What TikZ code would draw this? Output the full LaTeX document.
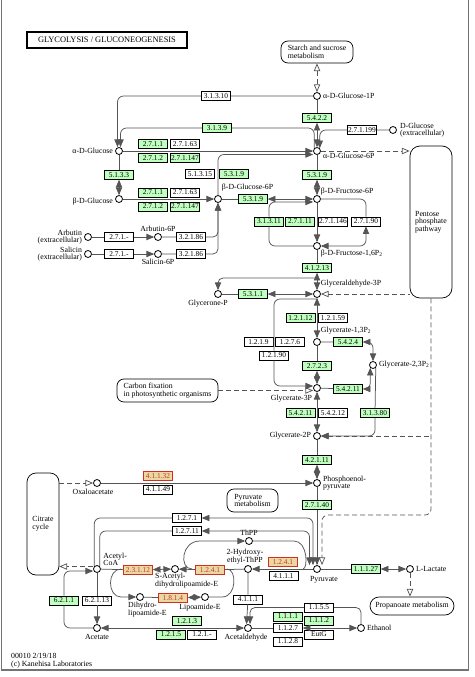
\documentclass[tikz,border=0pt]{standalone}
\usepackage{fontspec}
\setmainfont{Liberation Serif}
\usetikzlibrary{arrows, positioning}

\definecolor{kgreen}{HTML}{BFFFBF}
\definecolor{kline}{HTML}{555555}
\definecolor{kred}{HTML}{D0301E}
\definecolor{khigh}{HTML}{EAD8A4}

\begin{document}
\begin{tikzpicture}[x=1pt, y=-1pt, font=\fontsize{7.8}{7.6}\selectfont]
	\tikzset{>=triangle 45,
		cpd/.style={circle, draw, line width=0.8pt, fill=white, inner sep=0pt, minimum size=7pt},
		ec/.style={draw, line width=0.6pt, fill=white, inner sep=0pt, minimum width=29pt, minimum height=9pt, font=\fontsize{7.4}{7.4}\selectfont},
		ecg/.style={ec, fill=kgreen},
		ech/.style={ec, fill=khigh, draw=kred, text=kred},
		lk/.style={draw=kline, line width=0.75pt},
		dlk/.style={lk, dash pattern=on 5pt off 3pt, >=open triangle 45},
		mapbox/.style={draw, line width=0.7pt, rounded corners=7pt, align=left, inner sep=0pt},
		lbl/.style={inner sep=1pt, align=left}
	}
	\useasboundingbox (0,0) rectangle (474,677);
	\draw[black!55, line width=1.5pt] (1.5,0) -- (1.5,670) -- (468.5,670) -- (468.5,0);

	\node[draw, line width=1.1pt, minimum width=160pt, minimum height=16pt, font=\fontsize{8.4}{9}\selectfont] (title) at (107,40) {GLYCOLYSIS / GLUCONEOGENESIS};

	% maps
	\node[mapbox, minimum width=72pt, minimum height=22pt] (starch) at (317,52) {Starch and sucrose\\metabolism};
	\node[mapbox, rounded corners=10pt, minimum width=42pt, minimum height=152pt] (ppp) at (431,222) {Pentose\\phosphate\\pathway};
	\node[mapbox, minimum width=101pt, minimum height=23pt] (carbon) at (167.5,390.5) {Carbon fixation\\in photosynthetic organisms};
	\node[mapbox, rounded corners=9pt, minimum width=32pt, minimum height=102pt] (citrate) at (43,524) {Citrate\\cycle};
	\node[mapbox, minimum width=51pt, minimum height=23pt] (pyrmet) at (252.5,500.5) {Pyruvate\\metabolism};
	\node[mapbox, rounded corners=9pt, minimum width=84pt, minimum height=18pt] (prop) at (412,606) {Propanoate metabolism};

	% compounds
	\node[cpd] (g1p) at (317,96) {};
	\node[cpd] (aglc) at (119,151) {};
	\node[cpd] (ag6p) at (317,151) {};
	\node[cpd] (dglc) at (393,130) {};
	\node[cpd] (bglc) at (119,199) {};
	\node[cpd] (bg6p) at (218,199) {};
	\node[cpd] (f6p) at (317,199) {};
	\node[cpd] (fbp) at (317,246) {};
	\node[cpd] (arb) at (88,237) {};
	\node[cpd] (arb6p) at (158,237) {};
	\node[cpd] (sal) at (88,254) {};
	\node[cpd] (sal6p) at (158,254) {};
	\node[cpd] (gap) at (317,294) {};
	\node[cpd] (dhap) at (218,294) {};
	\node[cpd] (bpg13) at (317,342) {};
	\node[cpd] (bpg23) at (373,365) {};
	\node[cpd] (pg3) at (317,388) {};
	\node[cpd] (pg2) at (317,436) {};
	\node[cpd] (pep) at (317,483) {};
	\node[cpd] (oaa) at (97,483) {};
	\node[cpd] (pyr) at (317,569) {};
	\node[cpd] (lac) at (410,569) {};
	\node[cpd] (accoa) at (97,569) {};
	\node[cpd] (sacet) at (175,569) {};
	\node[cpd] (hethpp) at (248,569) {};
	\node[cpd] (thpp) at (249,541) {};
	\node[cpd] (dhlip) at (140,597) {};
	\node[cpd] (lip) at (205,597) {};
	\node[cpd] (acetate) at (97,628) {};
	\node[cpd] (acald) at (248,628) {};
	\node[cpd] (etoh) at (361,628) {};

	% compound labels
	\node[lbl, right=1pt of g1p] (tg1p) {α-D-Glucose-1P};
	\node[lbl, left=1pt of aglc] (taglc) {α-D-Glucose};
	\node[lbl, right=1pt of ag6p, yshift=-5pt] (tag6p) {α-D-Glucose-6P};
	\node[lbl, right=2pt of dglc] (tdglc) {D-Glucose\\(extracellular)};
	\node[lbl, left=1pt of bglc, yshift=-3pt] (tbglc) {β-D-Glucose};
	\node[lbl, above right=4pt and 0pt of bg6p] (tbg6p) {β-D-Glucose-6P};
	\node[lbl, above right=0pt and 0pt of f6p] (tf6p) {β-D-Fructose-6P};
	\node[lbl, below right=0pt and 0pt of fbp] (tfbp) {β-D-Fructose-1,6P\textsubscript{2}};
	\node[lbl, left=1pt of arb, align=right] (tarb) {Arbutin\\(extracellular)};
	\node[lbl, above=0pt of arb6p] (tarb6p) {Arbutin-6P};
	\node[lbl, left=1pt of sal, align=right] (tsal) {Salicin\\(extracellular)};
	\node[lbl, below=0pt of sal6p] (tsal6p) {Salicin-6P};
	\node[lbl, above right=3pt and 0pt of gap] (tgap) {Glyceraldehyde-3P};
	\node[lbl, below=1pt of dhap, xshift=-10pt] (tdhap) {Glycerone-P};
	\node[lbl, above right=4pt and 0pt of bpg13] (tbpg13) {Glycerate-1,3P\textsubscript{2}};
	\node[lbl, right=1pt of bpg23] (tbpg23) {Glycerate-2,3P\textsubscript{2}};
	\node[lbl, below left=3pt and 1pt of pg3] (tpg3) {Glycerate-3P};
	\node[lbl, left=1pt of pg2] (tpg2) {Glycerate-2P};
	\node[lbl, right=1pt of pep] (tpep) {Phosphoenol-\\pyruvate};
	\node[lbl, below=1pt of oaa, xshift=-4pt] (toaa) {Oxaloacetate};
	\node[lbl, below=2pt of pyr, xshift=7pt] (tpyr) {Pyruvate};
	\node[lbl, right=1pt of lac] (tlac) {L-Lactate};
	\node[lbl, above right=-1pt and 2.5pt of accoa] (taccoa) {Acetyl-\\CoA};
	\node[lbl, anchor=north west] (tsacet) at (154,572) {S-Acetyl-\\dihydrolipoamide-E};
	\node[lbl, above=0pt of hethpp, xshift=-3pt, align=center] (thethpp) {2-Hydroxy-\\ethyl-ThPP};
	\node[lbl, above=0pt of thpp] (tthpp) {ThPP};
	\node[lbl, anchor=north west] (tdhlip) at (127,601) {Dihydro-\\lipoamide-E};
	\node[lbl, below=2pt of lip, xshift=-5pt] (tlip) {Lipoamide-E};
	\node[lbl, below=1pt of acetate] (tacetate) {Acetate};
	\node[lbl, below=1pt of acald, xshift=-2pt] (tacald) {Acetaldehyde};
	\node[lbl, right=1pt of etoh] (tetoh) {Ethanol};

	% enzymes
	\node[ec] (e31310) at (216,96) {3.1.3.10};
	\node[ecg] (e3139) at (217,128) {3.1.3.9};
	\node[ecg] (e5422) at (317,118) {5.4.2.2};
	\node[ec] (e271199) at (362,130) {2.7.1.199};
	\node[ecg] (e2711a) at (153,144) {2.7.1.1};
	\node[ec] (e27163a) at (185,144) {2.7.1.63};
	\node[ecg] (e2712a) at (153,158) {2.7.1.2};
	\node[ecg] (e271147a) at (185,158) {2.7.1.147};
	\node[ecg] (e5133) at (119,175) {5.1.3.3};
	\node[ec] (e51315) at (200,174) {5.1.3.15};
	\node[ecg] (e5319a) at (234,174) {5.3.1.9};
	\node[ecg] (e5319b) at (317,175) {5.3.1.9};
	\node[ecg] (e2711b) at (153,192.5) {2.7.1.1};
	\node[ec] (e27163b) at (185,192.5) {2.7.1.63};
	\node[ecg] (e2712b) at (153,206.5) {2.7.1.2};
	\node[ecg] (e271147b) at (185,206.5) {2.7.1.147};
	\node[ecg] (e5319c) at (253,199) {5.3.1.9};
	\node[ec] (e271a) at (119,237) {2.7.1.-};
	\node[ec] (e32186a) at (191,237) {3.2.1.86};
	\node[ec] (e271b) at (119,254) {2.7.1.-};
	\node[ec] (e32186b) at (191,254) {3.2.1.86};
	\node[ecg] (e31311) at (269,221.5) {3.1.3.11};
	\node[ecg] (e27111) at (300,221.5) {2.7.1.11};
	\node[ec] (e271146) at (333,221.5) {2.7.1.146};
	\node[ec] (e27190) at (366,221.5) {2.7.1.90};
	\node[ecg] (e41213) at (317,268) {4.1.2.13};
	\node[ecg] (e5311) at (253,294) {5.3.1.1};
	\node[ecg] (e12112) at (300.5,318) {1.2.1.12};
	\node[ec] (e12159) at (333,318) {1.2.1.59};
	\node[ec] (e1219) at (258.5,342) {1.2.1.9};
	\node[ec] (e1276) at (290,342) {1.2.7.6};
	\node[ec] (e12190) at (274,355.5) {1.2.1.90};
	\node[ecg] (e5424) at (348,342) {5.4.2.4};
	\node[ecg] (e2723) at (317,366) {2.7.2.3};
	\node[ecg] (e54211a) at (348,389) {5.4.2.11};
	\node[ecg] (e54211b) at (300.5,413) {5.4.2.11};
	\node[ec] (e54212) at (333,413) {5.4.2.12};
	\node[ecg] (e31380) at (375,413) {3.1.3.80};
	\node[ecg] (e42111) at (317,460) {4.2.1.11};
	\node[ech] (e41132) at (158,476) {4.1.1.32};
	\node[ec] (e41149) at (158,489.5) {4.1.1.49};
	\node[ecg] (e27140) at (317,505) {2.7.1.40};
	\node[ec] (e1271) at (187,518) {1.2.7.1};
	\node[ec] (e12711) at (187,531) {1.2.7.11};
	\node[ech] (e1241a) at (283,562) {1.2.4.1};
	\node[ec] (e4111a) at (283.5,576) {4.1.1.1};
	\node[ech] (e1241b) at (210,570) {1.2.4.1};
	\node[ech] (e23112) at (138,570) {2.3.1.12};
	\node[ech] (e1814) at (173,598) {1.8.1.4};
	\node[ec] (e4111b) at (248,599.5) {4.1.1.1};
	\node[ecg] (e11127) at (366,569) {1.1.1.27};
	\node[ecg] (e6211) at (64,600.5) {6.2.1.1};
	\node[ec] (e62113) at (97,600.5) {6.2.1.13};
	\node[ecg] (e1213) at (187,621) {1.2.1.3};
	\node[ecg] (e1215) at (171,634.5) {1.2.1.5};
	\node[ec] (e121x) at (202,634.5) {1.2.1.-};
	\node[ec] (e1155) at (319,607.5) {1.1.5.5};
	\node[ecg] (e1111) at (288,616.5) {1.1.1.1};
	\node[ecg] (e1112) at (319,620.5) {1.1.1.2};
	\node[ec] (e1127) at (288,628) {1.1.2.7};
	\node[ec] (eeutg) at (319,634.5) {EutG};
	\node[ec] (e1128) at (288,641.5) {1.1.2.8};

	% glucose part
	\draw[dlk, <->] (starch) -- (g1p);
	\draw[lk, ->, rounded corners=6pt] (g1p) -- (e31310) -| ([xshift=-1.5pt]aglc.north);
	\draw[lk, ->, rounded corners=6pt] (ag6p.north west) |- (e3139) -| ([xshift=1.5pt]aglc.north);
	\draw[lk, <->] (g1p) -- (e5422) -- (ag6p);
	\draw[lk, ->, rounded corners=6pt] (dglc) -- (e271199) -| (ag6p.north east);
	\draw[lk, ->] (aglc) -- (ag6p);
	\draw[lk, <->] (aglc) -- (e5133) -- (bglc);
	\draw[lk, ->] (bglc) -- (bg6p);
	\draw[lk, ->, rounded corners=6pt] (bg6p) |- ([yshift=-3.5pt]ag6p.west);
	\draw[lk, <->] (ag6p) -- (e5319b) -- (f6p);
	\draw[lk, <->] (bg6p) -- (e5319c) -- (f6p);
	\draw[lk, ->] (arb) -- (e271a) -- (arb6p);
	\draw[lk, ->] (sal) -- (e271b) -- (sal6p);
	\draw[lk, ->, rounded corners=5pt] (arb6p) -- (e32186a) -| (bg6p.south);
	\draw[lk, ->, rounded corners=5pt] (sal6p) -- (e32186b) -| (bg6p.south);
	\draw[dlk, ->] (ag6p) -- (ag6p -| ppp.west);

	% fructose and trioses
	\draw[lk, ->] (f6p) -- (fbp);
	\draw[lk, ->, rounded corners=6pt] (fbp.west) -| (e31311) |- ([yshift=-3pt]f6p.west);
	\draw[lk, <->, rounded corners=6pt] (f6p.east) -| (e27190) |- (fbp.east);
	\draw[lk, <->] (fbp) -- (e41213) -- (gap);
	\coordinate (ald) at (317,278);
	\draw[lk, ->, rounded corners=5pt] (ald) -| (dhap);
	\draw[lk, <->] (dhap) -- (e5311) -- (gap);
	\draw[dlk, <-] (gap) -- (gap -| ppp.west);
	\draw[lk, <->] (gap) -- (bpg13);
	\coordinate (gl1) at (317,299);
	\draw[lk, ->, rounded corners=6pt] (gl1) -| (e12190) |- ([yshift=2pt]pg3.west);
	\draw[dlk, ->] (carbon) -- ([yshift=-2.5pt]pg3.west);
	\draw[lk, <->] (bpg13) -- (e2723) -- (pg3);
	\draw[lk, <->, rounded corners=6pt] (bpg13) -- (e5424) -| (bpg23);
	\draw[lk, <->, rounded corners=6pt] (pg3) -- (e54211a) -| (bpg23.south west);
	\draw[lk, ->, rounded corners=6pt] (bpg23.south east) -- (e31380) |- (pg2);
	\draw[lk, <->] (pg3) -- (pg2);
	\draw[lk, <->] (pg2) -- (e42111) -- (pep);
	\draw[dlk, <-] (pg2) -- (pg2 -| ppp.south);
	\coordinate (dj) at (431,515);
	\draw[dlk, ->, rounded corners=6pt] (ppp.south) -- (dj) -| ([xshift=5pt]pyr.north);

	% pyruvate part
	\draw[lk, ->] (pep) -- (e27140) -- (pyr);
	\draw[lk, ->] (oaa) -- (pep);
	\draw[dlk, ->] (citrate.east |- oaa) -- (oaa);
	\draw[dlk, ->] ([yshift=2.5pt]accoa.west) -- ([yshift=2.5pt]accoa.west -| citrate.east);
	\draw[lk, <->, rounded corners=6pt] (accoa.north west) |- (e1271) -| ([xshift=-4pt]pyr.north);
	\draw[lk, <->, rounded corners=6pt] (accoa.north east) |- (e12711) -| ([xshift=-7.5pt]pyr.north);
	\draw[lk, <->] (pyr) -- (e11127) -- (lac);
	\draw[dlk, ->] (lac) -- (lac |- prop.north);
	\draw[lk, ->] (pyr) -- (hethpp);
	\coordinate (tj1) at (303,569);
	\coordinate (tj2) at (192,569);
	\coordinate (tj3) at (227,569);
	\coordinate (tj4) at (121,569);
	\draw[lk] (thpp) -- (294,541) .. controls (308,541) and (308,569) .. (tj1);
	\draw[lk, ->] (tj2) .. controls (179,569) and (181,541) .. (200,541) -- (thpp);
	\draw[lk, ->] (hethpp) -- (e1241b) -- (sacet);
	\draw[lk] (lip) -- (222,597) .. controls (237,597) and (237,569) .. (tj3);
	\draw[lk, <->] (accoa) -- (e23112) -- (sacet);
	\draw[lk, ->] (tj4) .. controls (107,569) and (107,597) .. (121,597) -- (dhlip);
	\draw[lk, <->] (dhlip) -- (e1814) -- (lip);
	\draw[lk, ->] (accoa) -- (e62113) -- (acetate);
	\draw[lk, ->, rounded corners=6pt] (acetate) -| (e6211) |- ([yshift=-2pt]accoa.west);
	\draw[lk, <->] (acetate) -- (acald);
	\draw[lk, ->] (hethpp) -- (e4111b) -- ([xshift=-1.5pt]acald.north);
	\draw[lk, ->, rounded corners=5pt] (etoh) |- (e1155) -| ([xshift=2pt]acald.north);
	\draw[lk, <->] (acald) -- (e1127) -- (etoh);

	\node[lbl, anchor=west] (foot) at (10,661) {00010 2/19/18\\(c) Kanehisa Laboratories};
\end{tikzpicture}
\end{document}
